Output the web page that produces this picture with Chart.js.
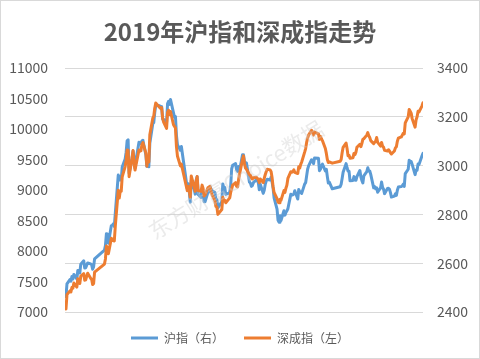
<!DOCTYPE html>
<html>
<head>
<meta charset="utf-8">
<script src="https://cdn.jsdelivr.net/npm/chart.js@4.4.1/dist/chart.umd.min.js"></script>
<style>
  html, body { margin: 0; padding: 0; background: #ffffff; }
  #wrap { position: relative; width: 480px; height: 359px; }
  canvas { display: block; }
</style>
</head>
<body>
<div id="wrap"><canvas id="c" width="480" height="359"></canvas></div>
<script>
// ---- Data ----
const chartTitle = '2019年沪指和深成指走势';
const seriesNames = ['沪指（右）', '深成指（左）'];

const tradeDates = [
'01-02','01-03','01-04','01-07','01-08','01-09','01-10','01-11','01-14','01-15','01-16','01-17','01-18','01-21','01-22','01-23','01-24','01-25','01-28','01-29','01-30','01-31',
'02-01','02-11','02-12','02-13','02-14','02-15','02-18','02-19','02-20','02-21','02-22','02-25','02-26','02-27','02-28',
'03-01','03-04','03-05','03-06','03-07','03-08','03-11','03-12','03-13','03-14','03-15','03-18','03-19','03-20','03-21','03-22','03-25','03-26','03-27','03-28','03-29',
'04-01','04-02','04-03','04-04','04-08','04-09','04-10','04-11','04-12','04-15','04-16','04-17','04-18','04-19','04-22','04-23','04-24','04-25','04-26','04-29','04-30',
'05-06','05-07','05-08','05-09','05-10','05-13','05-14','05-15','05-16','05-17','05-20','05-21','05-22','05-23','05-24','05-27','05-28','05-29','05-30','05-31',
'06-03','06-04','06-05','06-06','06-10','06-11','06-12','06-13','06-14','06-17','06-18','06-19','06-20','06-21','06-24','06-25','06-26','06-27','06-28',
'07-01','07-02','07-03','07-04','07-05','07-08','07-09','07-10','07-11','07-12','07-15','07-16','07-17','07-18','07-19','07-22','07-23','07-24','07-25','07-26','07-29','07-30','07-31',
'08-01','08-02','08-05','08-06','08-07','08-08','08-09','08-12','08-13','08-14','08-15','08-16','08-19','08-20','08-21','08-22','08-23','08-26','08-27','08-28','08-29','08-30',
'09-02','09-03','09-04','09-05','09-06','09-09','09-10','09-11','09-12','09-16','09-17','09-18','09-19','09-20','09-23','09-24','09-25','09-26','09-27','09-30',
'10-08','10-09','10-10','10-11','10-14','10-15','10-16','10-17','10-18','10-21','10-22','10-23','10-24','10-25','10-28','10-29','10-30','10-31',
'11-01','11-04','11-05','11-06','11-07','11-08','11-11','11-12','11-13','11-14','11-15','11-18','11-19','11-20','11-21','11-22','11-25','11-26','11-27','11-28','11-29',
'12-02','12-03','12-04','12-05','12-06','12-09','12-10','12-11','12-12','12-13','12-16','12-17','12-18','12-19','12-20','12-23','12-24','12-25','12-26','12-27','12-30','12-31'
];

// 沪指 (right axis)
const shIndex = [
2465,2464,2515,2533,2526,2545,2535,2554,2535,2570,2570,2560,2596,2610,2580,2581,2592,2601,2597,2594,2575,2585,
2618,2654,2672,2721,2719,2682,2754,2755,2761,2751,2804,2961,2941,2954,2941,
2994,3027,3055,3102,3106,2969,3027,3060,3027,2990,3022,3096,3091,3090,3101,3104,3044,2997,3022,2995,3091,
3171,3176,3217,3247,3245,3239,3242,3190,3189,3178,3254,3263,3251,3271,3216,3199,3201,3124,3086,3063,3078,
2906,2926,2893,2850,2939,2903,2883,2939,2955,2882,2870,2905,2891,2852,2852,2892,2909,2914,2905,2898,
2890,2862,2861,2827,2852,2925,2909,2910,2882,2887,2890,2917,2987,3001,3008,2982,2976,2996,2979,
3044,3044,3015,3005,3011,2933,2928,2915,2918,2930,2942,2937,2931,2901,2924,2886,2899,2923,2937,2944,2941,2953,2932,
2908,2868,2822,2777,2768,2794,2775,2815,2797,2808,2815,2823,2883,2880,2880,2883,2897,2863,2902,2893,2890,2886,
2924,2930,2957,2985,2999,3024,3021,3008,3031,3030,2979,2985,2999,3006,2978,2985,2955,2929,2932,2905,
2913,2924,2947,2973,3008,2991,2978,2977,2938,2939,2955,2941,2940,2955,2980,2954,2939,2929,
2958,2975,2991,2978,2978,2964,2909,2914,2905,2909,2891,2909,2933,2911,2903,2885,2906,2907,2903,2889,2871,
2875,2884,2878,2899,2912,2914,2917,2924,2915,2967,2985,3022,3017,3017,3005,2963,2982,2981,3007,3005,3040,3050
];

// 深成指 (left axis)
const szIndex = [
7089,7051,7284,7347,7330,7400,7390,7475,7409,7546,7527,7467,7587,7628,7520,7528,7587,7635,7553,7539,7451,7464,
7654,7786,7870,8080,8060,7954,8208,8174,8196,8164,8406,8995,8867,8984,8979,
9214,9384,9488,9655,9651,9219,9527,9646,9443,9326,9409,9655,9635,9644,9747,9776,9604,9390,9533,9459,9907,
10178,10212,10341,10425,10352,10336,10349,10178,10113,10011,10273,10308,10237,10287,10069,10044,10014,9710,9558,9396,9425,
8990,9060,8990,8880,9230,9050,8980,9150,9220,8990,8980,9080,9030,8900,8920,9040,9050,9060,8990,8930,
8820,8730,8720,8600,8680,8880,8820,8830,8790,8850,8870,8960,9020,9080,9120,9060,9050,9170,9260,
9500,9560,9430,9360,9340,9250,9240,9200,9180,9200,9210,9190,9180,9120,9180,9120,9190,9250,9300,9340,9330,9300,9200,
9050,8960,8860,8800,8790,8850,8830,8990,8960,9030,9080,9190,9300,9290,9300,9330,9290,9270,9380,9360,9420,9460,
9620,9680,9780,9850,9900,9980,9950,9900,9950,9920,9830,9880,9840,9810,9680,9600,9500,9450,9460,9440,
9470,9500,9610,9700,9770,9680,9560,9570,9520,9530,9600,9580,9620,9700,9750,9710,9760,9830,
9840,9900,9940,9890,9860,9810,9760,9780,9800,9860,9780,9720,9780,9720,9700,9650,9640,9660,9640,9610,9590,
9640,9690,9710,9800,9850,9870,9900,9930,9920,10100,10200,10320,10290,10260,10170,10030,10150,10200,10290,10280,10380,10430
];

const leftTicks = [7000, 7500, 8000, 8500, 9000, 9500, 10000, 10500, 11000];
const rightTicks = [2400, 2600, 2800, 3000, 3200, 3400];
const watermarkText = '东方财富Choice数据';

// ---- helpers ----
function dayOfYear(mmdd) {
  const [m, d] = mmdd.split('-').map(Number);
  return (Date.UTC(2019, m - 1, d) - Date.UTC(2019, 0, 0)) / 86400000;
}
const xs = tradeDates.map(dayOfYear);
const shPoints = shIndex.map((v, i) => ({ x: xs[i], y: v }));
const szPoints = szIndex.map((v, i) => ({ x: xs[i], y: v }));

const TEXT = '#595959';
const FONT = '"Noto Sans CJK SC", "Noto Sans", sans-serif';
const BLUE = '#5b9bd5';
const ORANGE = '#ed7d31';

const decor = {
  id: 'decor',
  afterDatasetsDraw(chart) {
    const ctx = chart.ctx;
    ctx.save();
    ctx.translate(236, 180);
    ctx.rotate(-32 * Math.PI / 180);
    ctx.font = '22px ' + FONT;
    ctx.fillStyle = 'rgba(205,205,205,0.4)';
    ctx.textAlign = 'center';
    ctx.textBaseline = 'middle';
    ctx.fillText(watermarkText, 0, 0);
    ctx.restore();
  },
  afterDraw(chart) {
    const ctx = chart.ctx;
    ctx.save();
    ctx.strokeStyle = '#d9d9d9';
    ctx.lineWidth = 1;
    ctx.strokeRect(0.5, 0.5, chart.width - 1, chart.height - 1);
    ctx.restore();
  }
};

new Chart(document.getElementById('c'), {
  type: 'line',
  data: {
    datasets: [
      { label: seriesNames[0], data: shPoints, yAxisID: 'yR', borderColor: BLUE, backgroundColor: BLUE,
        borderWidth: 3, pointRadius: 0, tension: 0, order: 1, borderJoinStyle: 'round', borderCapStyle: 'round' },
      { label: seriesNames[1], data: szPoints, yAxisID: 'yL', borderColor: ORANGE, backgroundColor: ORANGE,
        borderWidth: 3, pointRadius: 0, tension: 0, order: 0, borderJoinStyle: 'round', borderCapStyle: 'round' }
    ]
  },
  options: {
    responsive: false,
    animation: false,
    devicePixelRatio: 1,
    layout: { padding: { left: 0, right: 0, top: 0, bottom: 5 } },
    plugins: {
      tooltip: { enabled: false },
      title: {
        display: true,
        text: chartTitle,
        color: TEXT,
        font: { family: FONT, size: 24, weight: 'bold', lineHeight: 1.2 },
        padding: { top: 17.6, bottom: 21.6 }
      },
      legend: {
        display: true,
        position: 'bottom',
        labels: {
          color: TEXT,
          font: { family: FONT, size: 12 },
          boxWidth: 27,
          boxHeight: 3,
          padding: 20,
          generateLabels(chart) {
            return chart.data.datasets.map((ds, i) => ({
              text: ds.label, fillStyle: ds.borderColor, strokeStyle: ds.borderColor,
              lineWidth: 0, hidden: false, datasetIndex: i, fontColor: TEXT
            }));
          }
        }
      }
    },
    scales: {
      x: {
        type: 'linear',
        display: false,
        min: dayOfYear(tradeDates[0]),
        max: dayOfYear(tradeDates[tradeDates.length - 1])
      },
      yL: {
        type: 'linear',
        position: 'left',
        min: leftTicks[0],
        max: leftTicks[leftTicks.length - 1],
        afterBuildTicks(scale) { scale.ticks = leftTicks.map(v => ({ value: v })); },
        afterFit(scale) { scale.width = 65; },
        grid: { display: false, drawTicks: false },
        border: { display: false },
        ticks: { color: TEXT, font: { family: FONT, size: 14 }, padding: 17, callback: v => String(v) }
      },
      yR: {
        type: 'linear',
        position: 'right',
        min: rightTicks[0],
        max: rightTicks[rightTicks.length - 1],
        afterBuildTicks(scale) { scale.ticks = rightTicks.map(v => ({ value: v })); },
        afterFit(scale) { scale.width = 57; },
        grid: { display: true, drawTicks: false, color: '#d9d9d9', lineWidth: 1 },
        border: { display: false },
        ticks: { color: TEXT, font: { family: FONT, size: 14 }, padding: 14, callback: v => String(v) }
      }
    }
  },
  plugins: [decor]
});
</script>
</body>
</html>
